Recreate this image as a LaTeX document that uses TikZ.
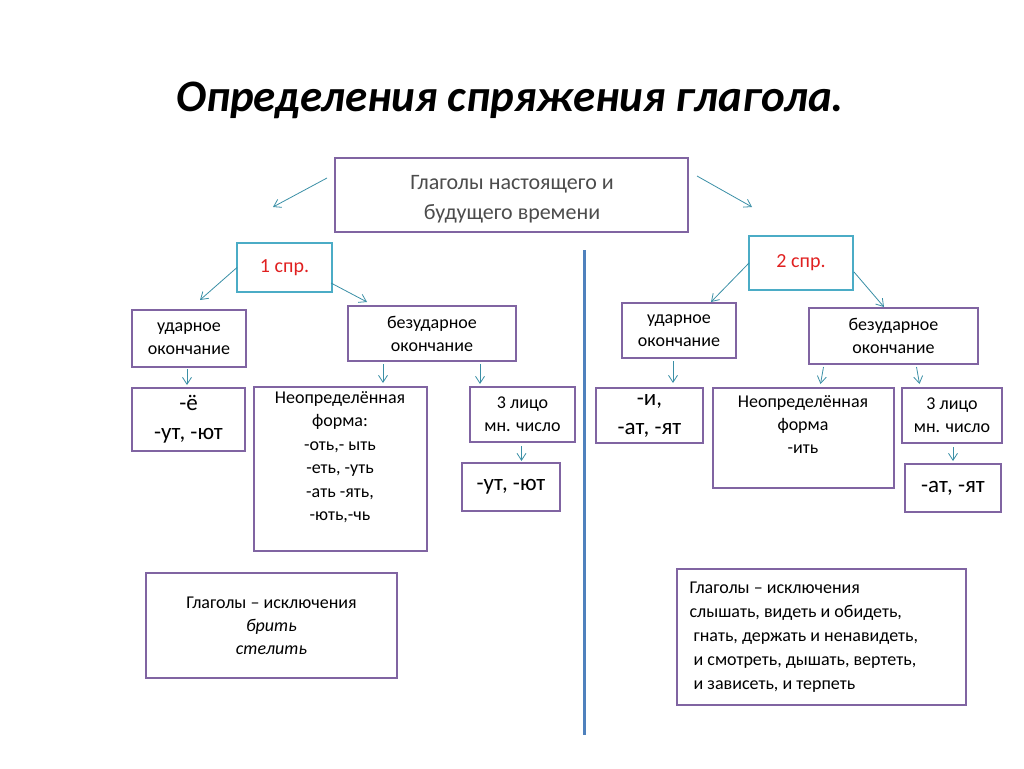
\documentclass[tikz,border=0pt]{standalone}
\usepackage{fontspec}
\setmainfont{Carlito}
\usetikzlibrary{arrows.meta}
\definecolor{boxpurple}{HTML}{8064A2}
\definecolor{boxteal}{HTML}{4BACC6}
\definecolor{arrteal}{HTML}{3A8FA6}
\definecolor{axisblue}{HTML}{4F81BD}
\definecolor{sprred}{HTML}{E02020}
\tikzset{
  box/.style={draw=boxpurple, line width=2pt, align=center, inner sep=0pt,
    font=\fontsize{18}{23}\selectfont},
  sprbox/.style={draw=boxteal, line width=2pt, align=center, inner sep=0pt,
    text=sprred, font=\fontsize{20}{23}\selectfont},
  arr/.style={draw=arrteal, line width=0.8pt, -{Straight Barb[length=7pt,width=9pt]}},
  big/.style={font=\fontsize{23}{29}\selectfont}
}
\newcommand{\boxat}[6]{% name, x1, y1, x2, y2, style
  \node[#6, minimum width={#4-#2}, minimum height={#5-#3}] (#1) at ({(#2+#4)/2},{(#3+#5)/2})}
\begin{document}
\begin{tikzpicture}[x=1pt,y=-1pt]
    \useasboundingbox (0,0) rectangle (1024,768);

    \node[font=\fontsize{45}{48}\selectfont\bfseries\itshape] (title) at (510,100) {Определения спряжения глагола.};

    \boxat{top}{335}{158}{688}{232}{box, text=black!70, font=\fontsize{22}{30}\selectfont} {};
    \node[font=\fontsize{22}{30}\selectfont, text=black!70, align=center] (toptext) at (512,199) {Глаголы настоящего и\\будущего времени};
    \boxat{sprA}{237}{243}{332}{292}{sprbox} {1 спр.};
    \boxat{sprB}{749}{236}{853}{290}{sprbox} {2 спр.};

    \boxat{udA}{132}{310}{246}{367}{box} {ударное\\окончание};
    \boxat{bezA}{348}{306}{516}{361}{box} {безударное\\окончание};
    \boxat{udB}{622}{303}{736}{358}{box} {ударное\\окончание};
    \boxat{bezB}{809}{308}{978}{364}{box} {безударное\\окончание};

    \boxat{endA}{132}{388}{245}{451}{box, big} {-ё\\-ут, -ют};
    \boxat{infA}{254}{387}{427}{551}{box} {};
    \node[font=\fontsize{18}{23.5}\selectfont, align=center, anchor=north] (infAtext) at (340,388)
      {Неопределённая\\форма:\\-оть,- ыть\\-еть, -уть\\-ать -ять,\\-ють,-чь};
    \boxat{plA}{470}{387}{575}{442}{box} {3 лицо\\мн. число};
    \boxat{plAend}{462}{463}{560}{511}{box, big} {-ут, -ют};

    \boxat{endB}{596}{388}{703}{443}{box, big} {-и,\\-ат, -ят};
    \boxat{infB}{713}{388}{894}{488}{box} {};
    \node[font=\fontsize{18}{23}\selectfont, align=center, anchor=north] (infBtext) at (803,392)
      {Неопределённая\\форма\\-ить};
    \boxat{plB}{902}{388}{1002}{443}{box} {3 лицо\\мн. число};
    \boxat{plBend}{905}{464}{1001}{512}{box, big} {-ат, -ят};

    \boxat{excA}{146}{573}{397}{678}{box} {Глаголы -- исключения\\\itshape брить\\\itshape стелить};
    \boxat{excB}{677}{569}{966}{705}{box} {};
    \node[font=\fontsize{18}{24}\selectfont, align=left, anchor=north west] (excBtext) at (686,578)
      {Глаголы -- исключения\\слышать, видеть и обидеть,\\\ гнать, держать и ненавидеть,\\\ и смотреть, дышать, вертеть,\\\ и зависеть, и терпеть};

    % dividing line
    \coordinate (lineT) at (584,250);
    \coordinate (lineB) at (584,735);
    \draw[axisblue, line width=3pt] (lineT) -- (lineB);

    % arrows
    \draw[arr] (top.west) ++(-7,-17) -- (273,207);
    \draw[arr] (top.east) ++(8,-19) -- (752,207);
    \draw[arr] (sprA.west) ++(1,0) -- (200,300);
    \draw[arr] (sprA.south east) ++(-2,-10) -- (367,302);
    \draw[arr] (sprB.west) ++(1,0) -- (711,302);
    \draw[arr] (sprB.east) ++(0,9) -- (884,307);
    \draw[arr] (udA.south) ++(-2,1) -- ++(0,16);
    \draw[arr] (bezA.south) ++(-49,2) -- ++(0,19);
    \draw[arr] (bezA.south) ++(48,2) -- ++(0,20);
    \draw[arr] (plA.south) ++(-1,3) -- ++(0,15);
    \draw[arr] (udB.south) ++(-6,2) -- ++(0,22);
    \draw[arr] (bezB.south) ++(-70,2) -- ++(-3,17);
    \draw[arr] (bezB.south) ++(23,2) -- ++(3,17);
    \draw[arr] (plB.south) ++(1,3) -- ++(0,14);
\end{tikzpicture}
\end{document}
